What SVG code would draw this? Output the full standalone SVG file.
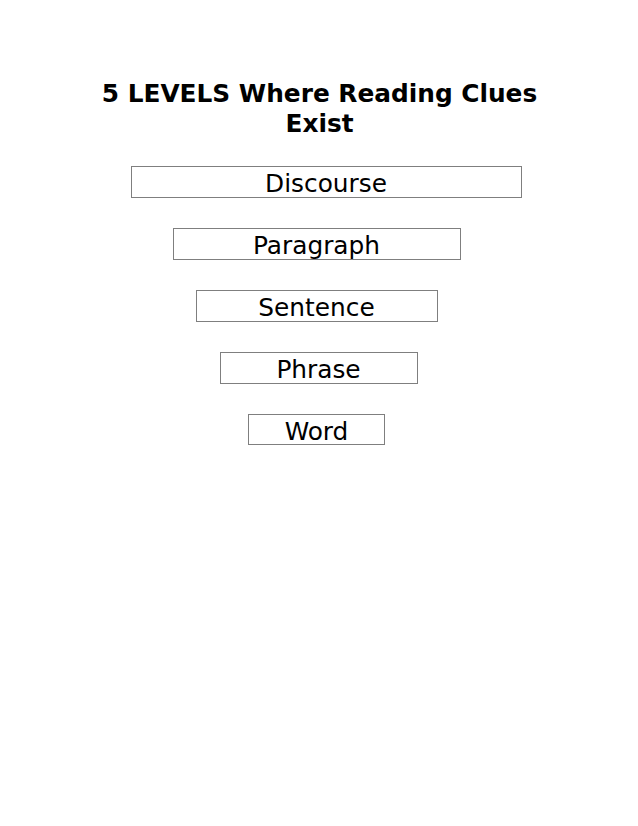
<svg xmlns="http://www.w3.org/2000/svg" width="638" height="826" viewBox="0 0 638 826">
<style>
.box{fill:#fff;stroke:#7f7f7f;stroke-width:1}
.lbl{font-family:"DejaVu Sans",Verdana,sans-serif;font-size:24.8px;fill:#000;text-anchor:middle}
.title{font-family:"DejaVu Sans",Verdana,sans-serif;font-size:24.8px;font-weight:bold;fill:#000;text-anchor:middle}
</style>
<rect width="638" height="826" fill="#fff"/>
<g id="title">
<text class="title" x="319.5" y="102">5 LEVELS Where Reading Clues</text>
<text class="title" x="319.5" y="132">Exist</text>
</g>
<g id="connectors"></g>
<g id="discourse"><rect class="box" x="131.5" y="166.5" width="390" height="31"/><text class="lbl" x="326" y="192">Discourse</text></g>
<g id="paragraph"><rect class="box" x="173.5" y="228.5" width="287" height="31"/><text class="lbl" x="316.5" y="254">Paragraph</text></g>
<g id="sentence"><rect class="box" x="196.5" y="290.5" width="241" height="31"/><text class="lbl" x="316.5" y="316">Sentence</text></g>
<g id="phrase"><rect class="box" x="220.5" y="352.5" width="197" height="31"/><text class="lbl" x="318.5" y="378">Phrase</text></g>
<g id="word"><rect class="box" x="248.5" y="414.5" width="136" height="30"/><text class="lbl" x="316.5" y="440">Word</text></g>
</svg>
